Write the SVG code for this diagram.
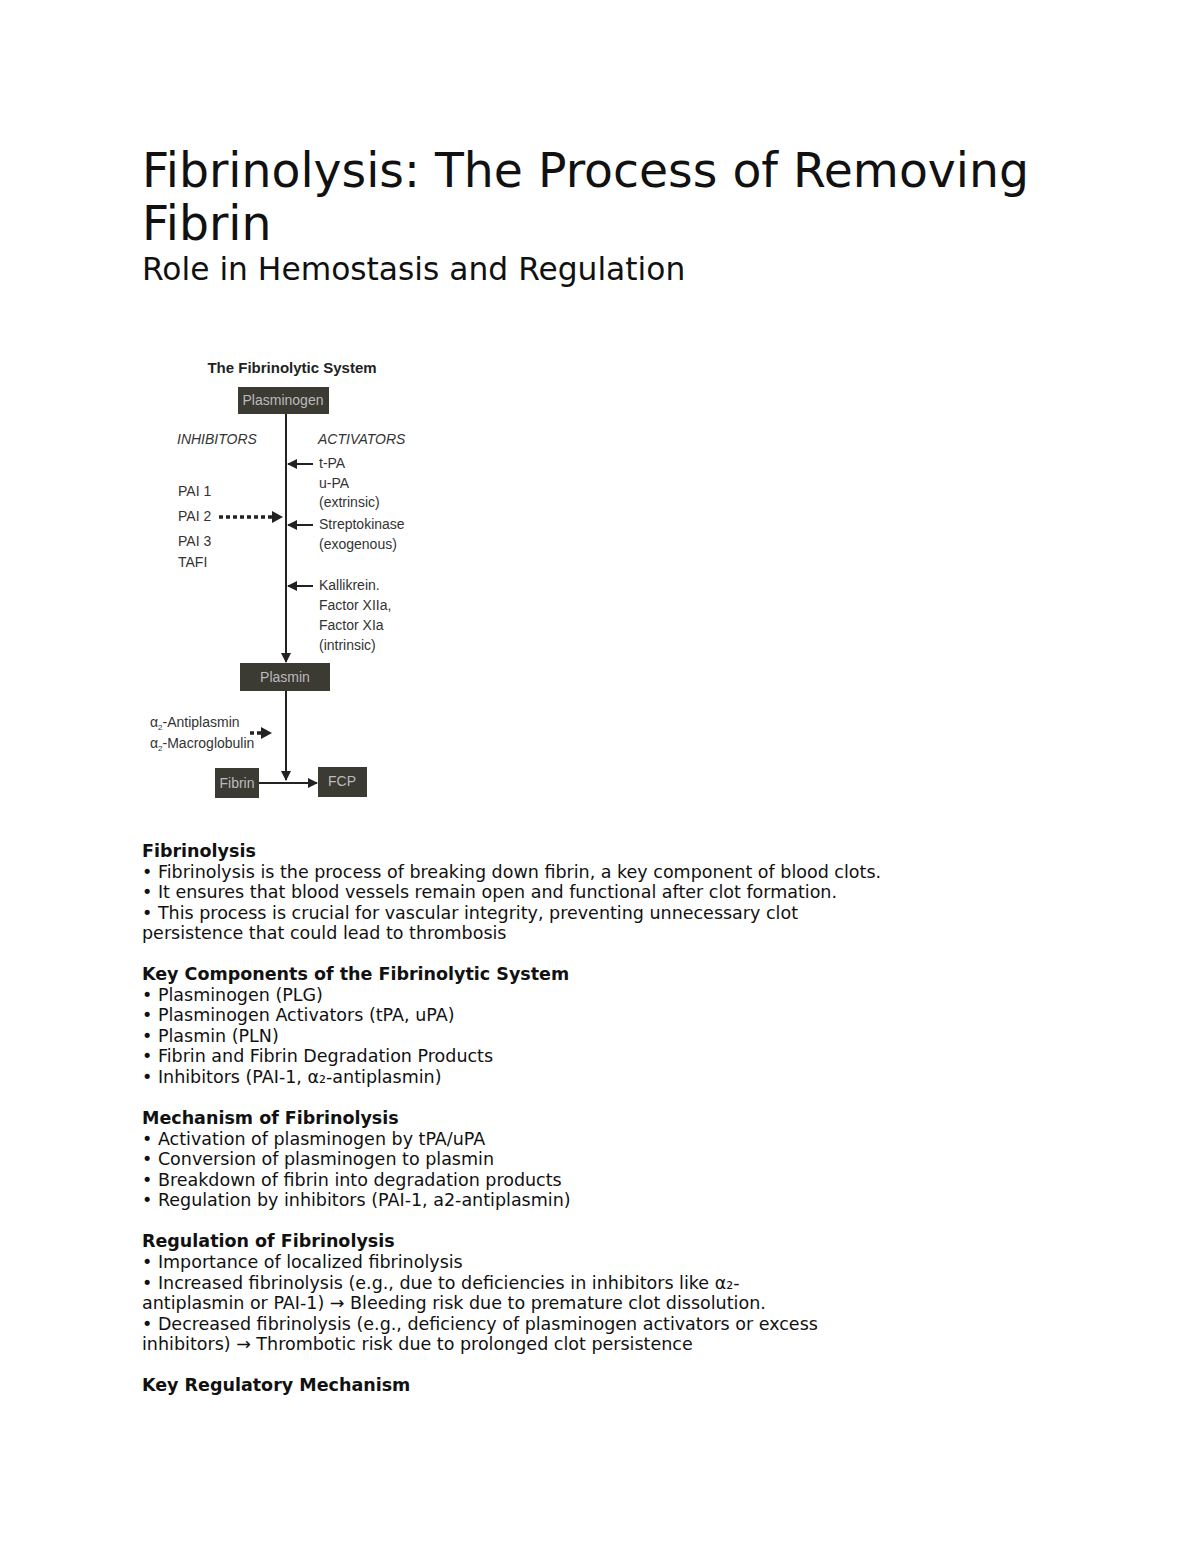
<svg xmlns="http://www.w3.org/2000/svg" width="1200" height="1553" viewBox="0 0 1200 1553">
<defs>
<marker id="ah" viewBox="0 0 10 10" refX="9" refY="5" markerWidth="11" markerHeight="10" markerUnits="userSpaceOnUse" orient="auto"><path d="M0,0 L10,5 L0,10 Z" fill="#222"/></marker>
</defs>
<style>
.doc{font-family:"DejaVu Sans",sans-serif;fill:#111}
.h1{font-size:47.3px}
.h2{font-size:31.3px}
.b{font-size:17.5px}
.bold{font-weight:bold}
.d{font-family:"Liberation Sans",Arial,sans-serif;font-size:14px;fill:#333}
.box{fill:#3b3a33}
.bt{font-family:"Liberation Sans",Arial,sans-serif;font-size:14px;fill:#bbb;text-anchor:middle}
.ln{stroke:#222;stroke-width:2;fill:none}
.dash{stroke:#222;stroke-width:3.5;stroke-dasharray:4,3;fill:none}
</style>
<rect width="1200" height="1553" fill="#fff"/>
<text class="doc h1" x="142" y="187">Fibrinolysis: The Process of Removing</text>
<text class="doc h1" x="142" y="240">Fibrin</text>
<text class="doc h2" x="142" y="280">Role in Hemostasis and Regulation</text>

<text x="292" y="373" text-anchor="middle" style="font-family:'Liberation Sans',Arial,sans-serif;font-size:15px;font-weight:bold;fill:#222">The Fibrinolytic System</text>
<g id="plasminogen"><rect class="box" x="238" y="387" width="91" height="27"/><text class="bt" x="283" y="405">Plasminogen</text></g>
<g id="plasmin"><rect class="box" x="240" y="663" width="90" height="28"/><text class="bt" x="285" y="682">Plasmin</text></g>
<g id="fibrin"><rect class="box" x="215" y="768" width="44" height="30"/><text class="bt" x="237" y="788">Fibrin</text></g>
<g id="fcp"><rect class="box" x="318" y="767" width="49" height="30"/><text class="bt" x="342" y="786">FCP</text></g>
<g id="labels">
<text class="d" x="177" y="444" font-style="italic">INHIBITORS</text>
<text class="d" x="318" y="444" font-style="italic">ACTIVATORS</text>
<text class="d" x="319" y="468">t-PA</text>
<text class="d" x="319" y="488">u-PA</text>
<text class="d" x="319" y="507">(extrinsic)</text>
<text class="d" x="319" y="529">Streptokinase</text>
<text class="d" x="319" y="549">(exogenous)</text>
<text class="d" x="319" y="590">Kallikrein.</text>
<text class="d" x="319" y="610">Factor XIIa,</text>
<text class="d" x="319" y="630">Factor XIa</text>
<text class="d" x="319" y="650">(intrinsic)</text>
<text class="d" x="178" y="496">PAI 1</text>
<text class="d" x="178" y="521">PAI 2</text>
<text class="d" x="178" y="546">PAI 3</text>
<text class="d" x="178" y="567">TAFI</text>
<text class="d" x="150" y="727">α<tspan font-size="8" dy="3">2</tspan><tspan dy="-3">-Antiplasmin</tspan></text>
<text class="d" x="150" y="748">α<tspan font-size="8" dy="3">2</tspan><tspan dy="-3">-Macroglobulin</tspan></text>
</g>
<g id="connectors">
<path class="ln" d="M286,414 V662" marker-end="url(#ah)"/>
<path class="ln" d="M286,691 V780" marker-end="url(#ah)"/>
<path class="ln" d="M259,783 H317" marker-end="url(#ah)"/>
<path class="ln" d="M313,464 H288" marker-end="url(#ah)"/>
<path class="ln" d="M313,525 H288" marker-end="url(#ah)"/>
<path class="ln" d="M313,586 H288" marker-end="url(#ah)"/>
<path class="dash" d="M219,517 H274"/><path d="M272,511 L283,517 L272,523 Z" fill="#222"/>
<path class="dash" d="M250,733 H263"/><path d="M261,727 L272,733 L261,739 Z" fill="#222"/>
</g>

<g class="doc b">
<text x="142" y="857" class="bold">Fibrinolysis</text>
<text x="142" y="878">• Fibrinolysis is the process of breaking down fibrin, a key component of blood clots.</text>
<text x="142" y="898">• It ensures that blood vessels remain open and functional after clot formation.</text>
<text x="142" y="919">• This process is crucial for vascular integrity, preventing unnecessary clot</text>
<text x="142" y="939">persistence that could lead to thrombosis</text>
<text x="142" y="980" class="bold">Key Components of the Fibrinolytic System</text>
<text x="142" y="1001">• Plasminogen (PLG)</text>
<text x="142" y="1021">• Plasminogen Activators (tPA, uPA)</text>
<text x="142" y="1042">• Plasmin (PLN)</text>
<text x="142" y="1062">• Fibrin and Fibrin Degradation Products</text>
<text x="142" y="1083">• Inhibitors (PAI-1, α₂-antiplasmin)</text>
<text x="142" y="1124" class="bold">Mechanism of Fibrinolysis</text>
<text x="142" y="1145">• Activation of plasminogen by tPA/uPA</text>
<text x="142" y="1165">• Conversion of plasminogen to plasmin</text>
<text x="142" y="1186">• Breakdown of fibrin into degradation products</text>
<text x="142" y="1206">• Regulation by inhibitors (PAI-1, a2-antiplasmin)</text>
<text x="142" y="1247" class="bold">Regulation of Fibrinolysis</text>
<text x="142" y="1268">• Importance of localized fibrinolysis</text>
<text x="142" y="1289">• Increased fibrinolysis (e.g., due to deficiencies in inhibitors like α₂-</text>
<text x="142" y="1309">antiplasmin or PAI-1) → Bleeding risk due to premature clot dissolution.</text>
<text x="142" y="1330">• Decreased fibrinolysis (e.g., deficiency of plasminogen activators or excess</text>
<text x="142" y="1350">inhibitors) → Thrombotic risk due to prolonged clot persistence</text>
<text x="142" y="1391" class="bold">Key Regulatory Mechanism</text>
</g>
</svg>
